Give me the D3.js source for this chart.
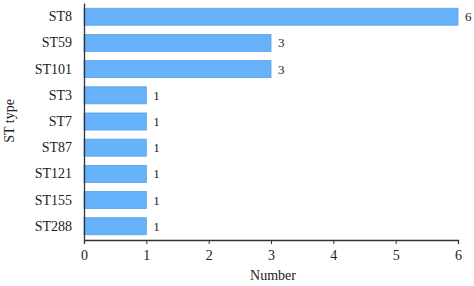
<!DOCTYPE html>
<html>
<head>
<meta charset="utf-8">
<script src="https://cdn.jsdelivr.net/npm/d3@7"></script>
<style>
  body { margin: 0; background: #fff; }
  text { font-family: "Liberation Serif", "Times New Roman", serif; fill: #222; }
</style>
</head>
<body>
<div id="chart"></div>
<script>
var categories = ['ST8', 'ST59', 'ST101', 'ST3', 'ST7', 'ST87', 'ST121', 'ST155', 'ST288'];
var counts = [6, 3, 3, 1, 1, 1, 1, 1, 1];
var xTicks = [0, 1, 2, 3, 4, 5, 6];

var width = 474, height = 286;
var margin = {top: 3, right: 16, bottom: 46, left: 84};

var svg = d3.select('#chart').append('svg')
    .attr('width', width)
    .attr('height', height);

var x = d3.scaleLinear().domain([0, 6]).range([margin.left, width - margin.right]);
var y = d3.scaleBand().domain(categories)
    .range([margin.top, height - margin.bottom])
    .paddingInner(0.35).paddingOuter(0.2);

// bars
svg.selectAll('rect.bar').data(counts).enter().append('rect')
    .attr('class', 'bar')
    .attr('x', x(0))
    .attr('y', function(d, i) { return y(categories[i]); })
    .attr('width', function(d) { return x(d) - x(0); })
    .attr('height', y.bandwidth())
    .attr('fill', '#66b3fb')
    .attr('stroke', '#5a9fe0')
    .attr('stroke-width', 0.8);

// value labels
svg.selectAll('text.val').data(counts).enter().append('text')
    .attr('class', 'val')
    .attr('x', function(d) { return x(d) + 7; })
    .attr('y', function(d, i) { return y(categories[i]) + y.bandwidth() / 2; })
    .attr('dy', '0.35em')
    .style('font-size', '13px')
    .text(function(d) { return d; });

// x axis
var xAxis = svg.append('g')
    .attr('transform', 'translate(0,' + (height - margin.bottom) + ')')
    .call(d3.axisBottom(x).tickValues(xTicks).tickFormat(d3.format('d')).tickSize(4).tickPadding(6));
xAxis.selectAll('text').style('font-size', '14px').attr('font-family', null);
xAxis.select('.domain').attr('stroke', '#333').attr('stroke-width', 1.3);
xAxis.selectAll('line').attr('stroke', '#333');

// y axis
var yAxis = svg.append('g')
    .attr('transform', 'translate(' + margin.left + ',0)')
    .call(d3.axisLeft(y).tickSize(0).tickPadding(12));
yAxis.select('.domain').attr('stroke', '#333').attr('stroke-width', 1.3);
yAxis.selectAll('text').style('font-size', '14px').attr('font-family', null);

// axis titles
svg.append('text')
    .attr('x', 273)
    .attr('y', 280)
    .attr('text-anchor', 'middle')
    .style('font-size', '14px')
    .text('Number');

svg.append('text')
    .attr('transform', 'translate(14,' + 121 + ') rotate(-90)')
    .attr('text-anchor', 'middle')
    .style('font-size', '14px')
    .text('ST  type');
</script>
</body>
</html>
